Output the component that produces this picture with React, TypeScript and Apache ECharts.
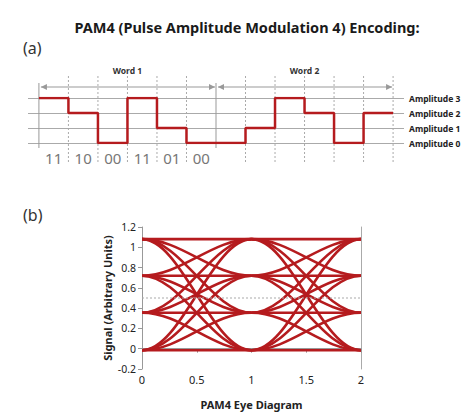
import React, { useEffect, useRef } from "react";
import * as echarts from "echarts";

// ---- Panel (a): PAM4 encoding ----
const word1Symbols = ["11", "10", "00", "11", "01", "00"];
const word2Symbols = ["00", "01", "11", "10", "00", "10"];
const amplitudeLevels = [0, 1, 2, 3];
const wordLabels = ["Word 1", "Word 2"];

// ---- Panel (b): eye diagram ----
const eyeLevels = [-0.015, 0.355, 0.72, 1.08];
const eyeTimes = [0, 1];
const eyeXTicks = [0, 0.5, 1, 1.5, 2];
const eyeYTicks = [-0.2, 0, 0.2, 0.4, 0.6, 0.8, 1, 1.2];
const thresholdLine = [[0, 0.5], [2, 0.5]];

const FONT = "Noto Sans";
const RED = "#b51b1e";

export default function App() {
  const ref = useRef<HTMLDivElement>(null);
  useEffect(() => {
    if (!ref.current) return;
    const chart = echarts.init(ref.current, null, { renderer: "svg" });
    const symbols = [...word1Symbols, ...word2Symbols];
    const stepData: number[][] = symbols.map((s, i) => [i, parseInt(s, 2)]);
    stepData.push([symbols.length, parseInt(symbols[symbols.length - 1], 2)]);
    const boundaries = Array.from({ length: symbols.length + 1 }, (_, i) => [i, 0]);
    const words = wordLabels.map((w, i) => [i * 6, i * 6 + 6, w]);
    const bitLabels = word1Symbols.map((s, i) => [i + 0.5, 0, s]);
    const eyeData: any[] = [];
    eyeTimes.forEach((t) =>
      eyeLevels.forEach((a) => eyeLevels.forEach((b) => eyeData.push([t, a, b])))
    );

    const option: any = {
      animation: false,
      backgroundColor: "#fff",
      textStyle: { fontFamily: FONT },
      graphic: [
        {
          type: "text",
          x: 247,
          y: 27,
          style: {
            text: "PAM4 (Pulse Amplitude Modulation 4) Encoding:",
            font: `bold 14.5px '${FONT}'`,
            fill: "#1a1a1a",
            textAlign: "center",
            textVerticalAlign: "middle",
          },
        },
        {
          type: "text",
          x: 23,
          y: 48,
          style: { text: "(a)", font: `16px '${FONT}'`, fill: "#333", textVerticalAlign: "middle" },
        },
        {
          type: "text",
          x: 23,
          y: 215,
          style: { text: "(b)", font: `16px '${FONT}'`, fill: "#333", textVerticalAlign: "middle" },
        },
      ],
      grid: [
        { left: 28, right: 70, top: 98, height: 45 },
        { left: 142, right: 113, top: 227, bottom: 49 },
      ],
      xAxis: [
        { gridIndex: 0, type: "value", min: -0.37, max: 12.37, show: false },
        {
          gridIndex: 1,
          type: "value",
          min: 0,
          max: 2,
          interval: 0.5,
          name: "PAM4 Eye Diagram",
          nameLocation: "middle",
          nameGap: 30,
          nameTextStyle: { fontFamily: FONT, fontWeight: "bold", fontSize: 11, color: "#222" },
          axisLine: { lineStyle: { color: "#999" } },
          axisTick: { show: true, length: 4, lineStyle: { color: "#999" } },
          axisLabel: { fontFamily: FONT, fontSize: 11, color: "#222", margin: 5 },
          splitLine: { show: false },
        },
      ],
      yAxis: [
        {
          gridIndex: 0,
          type: "value",
          min: 0,
          max: 3,
          interval: 1,
          position: "right",
          axisLine: { show: false },
          axisTick: { show: false },
          axisLabel: {
            formatter: (v: number) => "Amplitude " + v,
            fontFamily: FONT,
            fontSize: 8.5,
            fontWeight: "bold",
            color: "#222",
            margin: 5,
          },
          splitLine: { lineStyle: { color: "#aaa", width: 1 } },
        },
        {
          gridIndex: 1,
          type: "value",
          min: -0.2,
          max: 1.2,
          interval: 0.2,
          name: "Signal (Arbitrary Units)",
          nameLocation: "middle",
          nameGap: 29,
          nameTextStyle: { fontFamily: FONT, fontWeight: "bold", fontSize: 11, color: "#222" },
          axisLine: { show: true, lineStyle: { color: "#999" } },
          axisTick: { show: true, length: 4, lineStyle: { color: "#999" } },
          axisLabel: { fontFamily: FONT, fontSize: 10.5, color: "#222", margin: 6 },
          splitLine: { show: false },
        },
        {
          gridIndex: 1,
          type: "value",
          min: -0.2,
          max: 1.2,
          position: "right",
          axisLine: { show: true, lineStyle: { color: "#aaa" } },
          axisTick: { show: false },
          axisLabel: { show: false },
          splitLine: { show: false },
        },
      ],
      series: [
        // vertical symbol boundaries
        {
          type: "custom",
          xAxisIndex: 0,
          yAxisIndex: 0,
          data: boundaries,
          silent: true,
          renderItem: (params: any, api: any) => {
            const x = api.value(0);
            const pTop = api.coord([x, 3]);
            const pBot = api.coord([x, 0]);
            const solid = x === 0 || x === 6;
            return {
              type: "line",
              shape: {
                x1: pTop[0],
                y1: solid ? pTop[1] - 15 : pTop[1] - 22,
                x2: pTop[0],
                y2: solid ? pBot[1] + 5 : pBot[1] + 20,
              },
              style: {
                stroke: solid ? "#999" : "#aaa",
                lineWidth: 1,
                lineDash: solid ? null : [2, 2],
              },
            };
          },
        },
        // word arrows
        {
          type: "custom",
          xAxisIndex: 0,
          yAxisIndex: 0,
          data: words,
          silent: true,
          renderItem: (params: any, api: any) => {
            const a = api.coord([api.value(0), 3]);
            const b = api.coord([api.value(1), 3]);
            const y = a[1] - 11;
            const x1 = a[0] + 2;
            const x2 = b[0] - 1;
            const c = "#999";
            return {
              type: "group",
              children: [
                { type: "line", shape: { x1, y1: y, x2, y2: y }, style: { stroke: c, lineWidth: 1 } },
                {
                  type: "polygon",
                  shape: { points: [[x1, y], [x1 + 6, y - 3], [x1 + 6, y + 3]] },
                  style: { fill: c },
                },
                {
                  type: "polygon",
                  shape: { points: [[x2, y], [x2 - 6, y - 3], [x2 - 6, y + 3]] },
                  style: { fill: c },
                },
                {
                  type: "text",
                  x: (a[0] + b[0]) / 2,
                  y: a[1] - 28,
                  style: {
                    text: wordLabels[params.dataIndex],
                    font: `bold 8.5px '${FONT}'`,
                    fill: "#333",
                    textAlign: "center",
                    textVerticalAlign: "middle",
                  },
                },
              ],
            };
          },
        },
        // bit labels
        {
          type: "custom",
          xAxisIndex: 0,
          yAxisIndex: 0,
          data: bitLabels,
          silent: true,
          renderItem: (params: any, api: any) => {
            const p = api.coord([api.value(0), 0]);
            return {
              type: "text",
              x: p[0],
              y: p[1] + 15,
              style: {
                text: word1Symbols[params.dataIndex],
                font: `15px '${FONT}'`,
                fill: "#777",
                textAlign: "center",
                textVerticalAlign: "middle",
              },
            };
          },
        },
        // step signal
        {
          type: "line",
          xAxisIndex: 0,
          yAxisIndex: 0,
          step: "end",
          data: stepData,
          symbol: "none",
          lineStyle: { color: RED, width: 2.5 },
          silent: true,
        },
        // threshold line
        {
          type: "line",
          xAxisIndex: 1,
          yAxisIndex: 1,
          data: thresholdLine,
          symbol: "none",
          lineStyle: { color: "#aaa", width: 1.2, type: [2, 2] },
          silent: true,
        },
        // eye diagram transitions
        {
          type: "custom",
          xAxisIndex: 1,
          yAxisIndex: 1,
          data: eyeData,
          silent: true,
          renderItem: (params: any, api: any) => {
            const t = api.value(0);
            const p0 = api.coord([t, api.value(1)]);
            const p1 = api.coord([t + 1, api.value(2)]);
            const w = p1[0] - p0[0];
            const k = 0.36;
            return {
              type: "bezierCurve",
              shape: {
                x1: p0[0],
                y1: p0[1],
                x2: p1[0],
                y2: p1[1],
                cpx1: p0[0] + k * w,
                cpy1: p0[1],
                cpx2: p1[0] - k * w,
                cpy2: p1[1],
              },
              style: { stroke: RED, lineWidth: 2.6, fill: null },
            };
          },
        },
      ],
    };
    chart.setOption(option);
    return () => chart.dispose();
  }, []);
  return (
    <div
      ref={ref}
      style={{ position: "fixed", left: 0, top: 0, width: 474, height: 418, background: "#fff" }}
    />
  );
}
